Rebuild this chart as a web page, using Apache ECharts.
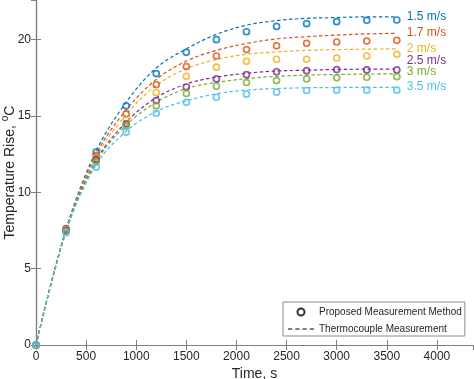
<!DOCTYPE html>
<html>
<head>
<meta charset="utf-8">
<script src="https://cdn.jsdelivr.net/npm/echarts@6/dist/echarts.min.js"></script>
<style>html,body{margin:0;padding:0;background:#fff}#c{width:474px;height:379px}</style>
</head>
<body>
<div id="c"></div>
<script>
// ---- data ----
const times = [0, 300, 600, 900, 1200, 1500, 1800, 2100, 2400, 2700, 3000, 3300, 3600];
const speedNames = ['1.5 m/s', '1.7 m/s', '2 m/s', '2.5 m/s', '3 m/s', '3.5 m/s'];
const xTicks = [0, 500, 1000, 1500, 2000, 2500, 3000, 3500, 4000];
const yTicks = [0, 5, 10, 15, 20];

// proposed measurement method (markers)
const meas15 = [0, 7.63, 12.63, 15.67, 17.78, 19.17, 20.00, 20.52, 20.87, 21.05, 21.18, 21.27, 21.29];
const meas17 = [0, 7.60, 12.42, 15.14, 17.06, 18.24, 18.93, 19.35, 19.60, 19.76, 19.85, 19.91, 19.96];
const meas20 = [0, 7.55, 12.27, 14.80, 16.54, 17.60, 18.20, 18.58, 18.72, 18.72, 18.80, 18.93, 19.04];
const meas25 = [0, 7.50, 12.14, 14.49, 16.01, 16.90, 17.43, 17.71, 17.90, 17.97, 18.04, 18.02, 18.02];
const meas30 = [0, 7.45, 11.98, 14.38, 15.67, 16.47, 16.95, 17.19, 17.32, 17.43, 17.50, 17.54, 17.58];
const meas35 = [0, 7.35, 11.65, 13.94, 15.18, 15.90, 16.23, 16.43, 16.56, 16.67, 16.69, 16.69, 16.69];

// thermocouple measurement (dashed lines)
const tc15 = [0, 7.6, 12.7, 15.9, 18.15, 19.4, 20.35, 20.95, 21.25, 21.4, 21.45, 21.5, 21.5];
const tc17 = [0, 7.5, 12.5, 15.4, 17.4, 18.6, 19.3, 19.75, 20.05, 20.2, 20.3, 20.38, 20.42];
const tc20 = [0, 7.5, 12.3, 15.1, 17.0, 18.1, 18.7, 19.05, 19.2, 19.3, 19.35, 19.38, 19.4];
const tc25 = [0, 7.5, 12.1, 14.6, 16.2, 17.1, 17.55, 17.8, 17.95, 18.0, 18.05, 18.07, 18.08];
const tc30 = [0, 7.5, 12.0, 14.4, 15.9, 16.8, 17.2, 17.45, 17.6, 17.68, 17.72, 17.75, 17.76];
const tc35 = [0, 7.4, 11.8, 14.0, 15.3, 16.0, 16.45, 16.7, 16.8, 16.85, 16.87, 16.88, 16.88];

const legendNames = ['Proposed Measurement Method', 'Thermocouple Measurement'];

// ---- styling ----
const colors = ['#0072BD', '#D95319', '#EDB120', '#7E2F8E', '#77AC30', '#4DBEEE'];
const labelNudgeY = [-0.5, -1, 0, -8, -2, -0.5];
const measAll = [meas15, meas17, meas20, meas25, meas30, meas35];
const tcAll = [tc15, tc17, tc20, tc25, tc30, tc35];
const axisCol = '#808080';
const txtCol = '#262626';
const FONT = 'Liberation Sans, Arial, Helvetica, sans-serif';
const dashIcon = 'path://M0,0h4v1h-4zM7,0h4v1h-4zM14,0h4v1h-4zM21,0h4v1h-4z';

const pair = (arr) => times.map((t, i) => [t, arr[i]]);

const series = [];
tcAll.forEach((arr, k) => {
  series.push({
    type: 'line', name: 'tc' + k, data: pair(arr), smooth: 0.35,
    symbol: 'none', xAxisIndex: 0, yAxisIndex: 0,
    lineStyle: { color: colors[k], width: 1.2, type: [3.5, 2.5] },
    endLabel: {
      show: true, formatter: speedNames[k], color: colors[k],
      fontSize: 12, fontFamily: FONT, distance: 10, offset: [0, labelNudgeY[k]]
    },
    silent: true, animation: false, z: 2
  });
});
measAll.forEach((arr, k) => {
  series.push({
    type: 'scatter', name: 'm' + k, data: pair(arr), symbol: 'circle', symbolSize: 6,
    itemStyle: { color: 'rgba(0,0,0,0)', borderColor: colors[k], borderWidth: 1.7 },
    silent: true, animation: false, z: 3
  });
});
series.push({
  type: 'scatter', name: legendNames[0], data: [], symbol: 'circle',
  itemStyle: { color: 'rgba(0,0,0,0)', borderColor: '#000', borderWidth: 2 }
});
series.push({
  type: 'line', name: legendNames[1], data: [], symbol: 'none',
  lineStyle: { color: '#000', width: 1, type: [4, 3] }, itemStyle: { color: '#000' }
});

const fmtX = (v) => (xTicks.indexOf(v) >= 0 ? String(v) : '');
const fmtY = (v) => (yTicks.indexOf(v) >= 0 ? String(v) : '');

const option = {
  animation: false,
  backgroundColor: '#fff',
  textStyle: { fontFamily: FONT },
  grid: { left: 36, right: 1, top: 0, bottom: 34, containLabel: false, outerBoundsMode: 'none' },
  xAxis: [{
    type: 'value', min: 0, max: 4360, interval: 500, position: 'bottom',
    name: 'Time, s', nameLocation: 'middle', nameGap: 22, nameMoveOverlap: false,
    nameTextStyle: { color: txtCol, fontSize: 14, fontFamily: FONT },
    axisLine: { lineStyle: { color: axisCol, width: 1.2 } },
    axisTick: { inside: true, length: 5, lineStyle: { color: axisCol } },
    axisLabel: { color: txtCol, fontSize: 12, fontFamily: FONT, margin: 6, formatter: fmtX, showMaxLabel: false },
    splitLine: { show: false }
  }, {
    type: 'value', min: 0, max: 4360, interval: 500, position: 'top',
    axisLine: { show: true, lineStyle: { color: axisCol, width: 1.2 } },
    axisTick: { inside: true, length: 5, lineStyle: { color: axisCol } },
    axisLabel: { show: false }, splitLine: { show: false }
  }],
  yAxis: [{
    type: 'value', min: 0, max: 22.6, interval: 5, position: 'left',
    name: 'Temperature Rise, {sup|o}C', nameLocation: 'middle', nameGap: 16, nameMoveOverlap: false,
    nameTextStyle: {
      color: txtCol, fontSize: 14, fontFamily: FONT, lineHeight: 20,
      rich: { sup: { fontSize: 10, fontFamily: FONT, color: txtCol, verticalAlign: 'top', lineHeight: 10 } }
    },
    axisLine: { show: true, lineStyle: { color: axisCol, width: 1.2 } },
    axisTick: { show: true, inside: true, length: 5, lineStyle: { color: axisCol } },
    axisLabel: { color: txtCol, fontSize: 12, fontFamily: FONT, margin: 5, formatter: fmtY, showMaxLabel: false },
    splitLine: { show: false }
  }, {
    type: 'value', min: 0, max: 22.6, interval: 5, position: 'right',
    axisLine: { show: true, lineStyle: { color: axisCol, width: 1.2 } },
    axisTick: { show: true, inside: true, length: 5, lineStyle: { color: axisCol } },
    axisLabel: { show: false }, splitLine: { show: false }
  }],
  legend: {
    data: [
      { name: legendNames[0], icon: 'circle', itemStyle: { color: 'rgba(0,0,0,0)', borderColor: '#000', borderWidth: 2 } },
      { name: legendNames[1], icon: dashIcon, itemStyle: { color: '#000', borderWidth: 0 } }
    ],
    orient: 'vertical', left: 283, top: 302,
    padding: [5, 3, 2, 5], itemGap: 7, itemWidth: 26, itemHeight: 7,
    symbolKeepAspect: true,
    borderColor: '#8c8c8c', borderWidth: 1, backgroundColor: '#fff',
    textStyle: { color: txtCol, fontSize: 10, fontFamily: FONT, padding: [0, 0, 0, 0] },
    selectedMode: false
  },
  series: series
};

const chart = echarts.init(document.getElementById('c'), null, { renderer: 'canvas' });
chart.setOption(option);
</script>
</body>
</html>
